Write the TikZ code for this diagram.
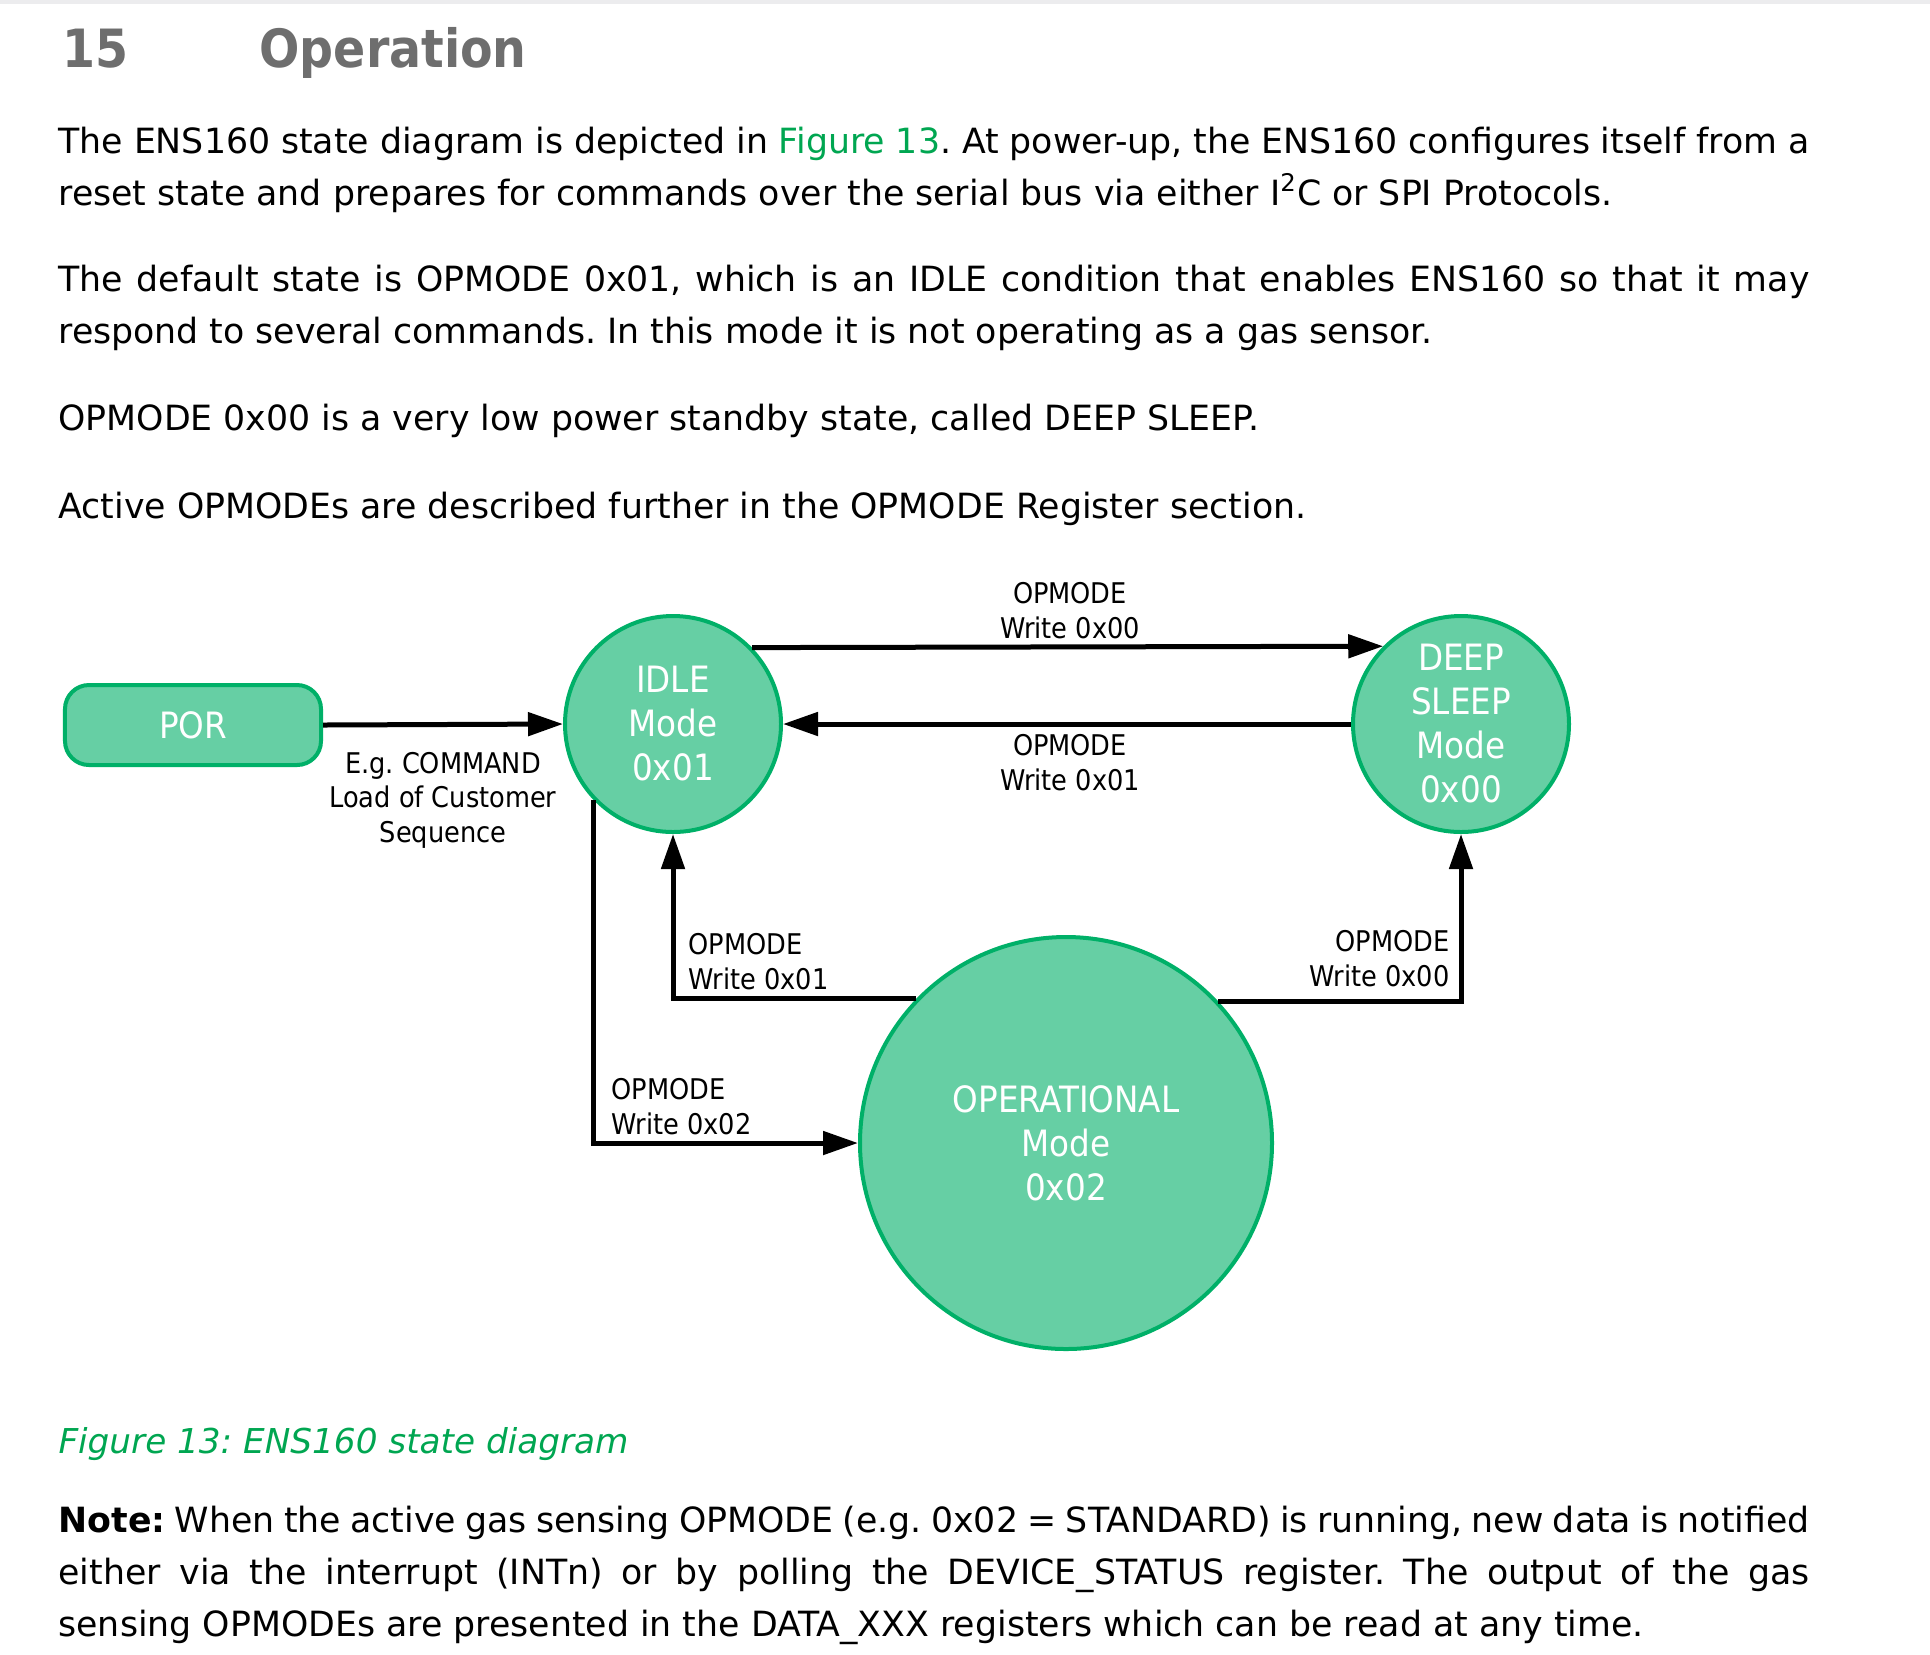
\documentclass[tikz,border=0pt]{standalone}
\usepackage{fontspec}
\setmainfont{DejaVu Sans}
\newfontfamily\diagfont{DejaVu Sans Condensed}
\usetikzlibrary{arrows.meta}
\frenchspacing
\definecolor{stfill}{RGB}{102,207,164}
\definecolor{stline}{RGB}{0,176,104}
\definecolor{figgreen}{RGB}{0,166,81}
\definecolor{headgray}{RGB}{110,110,110}
\definecolor{topband}{RGB}{236,236,238}
\tikzset{
  state/.style={circle, draw=stline, fill=stfill, line width=1.6pt, inner sep=0pt,
    text=white, align=center, font=\diagfont\fontsize{14.5pt}{17.6pt}\selectfont},
  porbox/.style={rectangle, rounded corners=9.6pt, draw=stline, fill=stfill, line width=1.6pt,
    minimum width=102.4pt, minimum height=32pt, inner sep=0pt, text=white,
    font=\diagfont\fontsize{14.5pt}{17.6pt}\selectfont},
  conn/.style={line width=2pt, -{Triangle[length=14pt,width=9.2pt]}},
  lbl/.style={inner sep=0pt, anchor=base, font=\diagfont\fontsize{11.4pt}{13.8pt}\selectfont},
  para/.style={inner sep=0pt, anchor=base west, align=left, font=\fontsize{13.9pt}{20.8pt}\selectfont\frenchspacing},
  headtxt/.style={inner sep=0pt, anchor=base west, text=headgray, font=\diagfont\bfseries\fontsize{21.1pt}{26pt}\selectfont},
}
\begin{document}
\begin{tikzpicture}[x=0.4pt,y=-0.4pt]
\useasboundingbox (0,0) rectangle (1930,1654);
\fill[white] (0,0) rectangle (1930,1654);
\fill[topband] (0,0) rectangle (1930,4);
% heading
\node[headtxt] (hnum) at (62,67) {15};
\node[headtxt] (htitle) at (259,67) {Operation};
% body (base anchor = baseline of the last line)
\node[para] (p1) at (58,205) {\makebox[700.4pt][s]{The ENS160 state diagram is depicted in \textcolor{figgreen}{Figure 13}. At power-up, the ENS160 configures itself from a}\\reset state and prepares for commands over the serial bus via either I\textsuperscript{2}C or SPI Protocols.};
\node[para] (p2) at (58,343) {\makebox[700.4pt][s]{The default state is OPMODE 0x01, which is an IDLE condition that enables ENS160 so that it may}\\respond to several commands. In this mode it is not operating as a gas sensor.};
\node[para] (p3) at (58,430) {OPMODE 0x00 is a very low power standby state, called DEEP SLEEP.};
\node[para] (p4) at (58,518) {Active OPMODEs are described further in the OPMODE Register section.};
% states
\node[porbox] (por) at (193,725) {POR};
\node[state, minimum size=86.4pt] (idle) at (673,724) {IDLE\\Mode\\0x01};
\node[state, minimum size=86.4pt] (deep) at (1461,724) {DEEP\\SLEEP\\Mode\\0x00};
\node[state, minimum size=164.8pt] (op) at (1066,1143) {OPERATIONAL\\Mode\\0x02};
% connectors
\draw[conn] (por.east) -- (idle.west);
\draw[conn] (idle.44.4) -- (deep.135.6);
\draw[conn] (deep.west) -- (idle.east);
\draw[conn] (op.136.2) -| (idle.south);
\draw[conn] (op.43.8) -| (deep.south);
\draw[conn] (idle.224.4) |- (op.west);
% labels (base anchor = baseline of the last line)
\node[lbl, align=center] (l1) at (443,842) {E.g. COMMAND\\Load of Customer\\Sequence};
\node[lbl, align=center] (l2) at (1070,638) {OPMODE\\Write 0x00};
\node[lbl, align=center] (l3) at (1070,790) {OPMODE\\Write 0x01};
\node[lbl, align=left, anchor=base west] (l4) at (688,989) {OPMODE\\Write 0x01};
\node[lbl, align=right, anchor=base east] (l5) at (1450,986) {OPMODE\\Write 0x00};
\node[lbl, align=left, anchor=base west] (l6) at (611,1134) {OPMODE\\Write 0x02};
% caption
\node[inner sep=0pt, anchor=base west, text=figgreen, font=\fontsize{13.7pt}{20.8pt}\selectfont\itshape] (cap) at (58,1453) {Figure 13: ENS160 state diagram};
% note
\node[para] (note) at (58,1636) {\makebox[700.4pt][s]{\textbf{Note:} When the active gas sensing OPMODE (e.g. 0x02 = STANDARD) is running, new data is notified}\\\makebox[700.4pt][s]{either via the interrupt (INTn) or by polling the DEVICE\_STATUS register. The output of the gas}\\sensing OPMODEs are presented in the DATA\_XXX registers which can be read at any time.};
\end{tikzpicture}
\end{document}
